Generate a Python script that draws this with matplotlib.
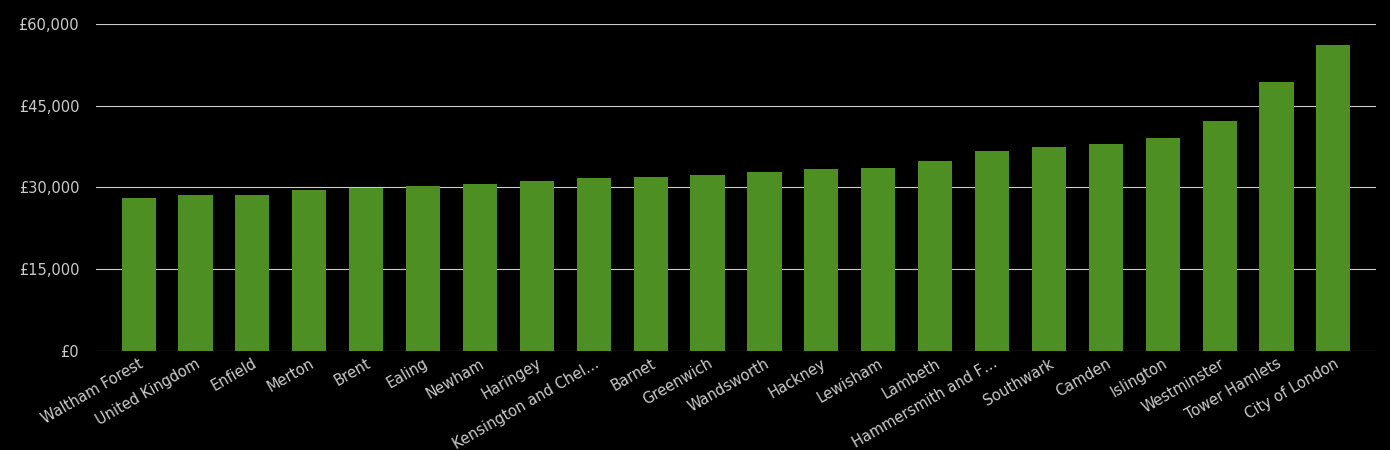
import matplotlib
matplotlib.use("Agg")
import matplotlib.pyplot as plt
from matplotlib.ticker import FuncFormatter

categories = ["Waltham Forest", "United Kingdom", "Enfield", "Merton", "Brent", "Ealing",
              "Newham", "Haringey", "Kensington and Chel…", "Barnet", "Greenwich",
              "Wandsworth", "Hackney", "Lewisham", "Lambeth", "Hammersmith and F…",
              "Southwark", "Camden", "Islington", "Westminster", "Tower Hamlets", "City of London"]
values = [28100, 28600, 28600, 29500, 29900, 30300, 30600, 31200, 31700, 31900, 32300,
          32800, 33400, 33600, 34900, 36700, 37400, 38000, 39100, 42200, 49400, 56100]

fig = plt.figure(figsize=(13.9, 4.5), dpi=100, facecolor="black")
ax = fig.add_axes([0.069, 0.22, 0.921, 0.727], facecolor="black")
x = range(len(categories))
ax.bar(x, values, width=0.6, color="#4d8f22", zorder=3)
ax.set_xlim(-0.75, len(categories) - 0.25)
ax.set_ylim(0, 60000)
ax.set_yticks([0, 15000, 30000, 45000, 60000])
ax.yaxis.set_major_formatter(FuncFormatter(lambda v, p: f"£{int(v):,}"))
ax.grid(axis="y", color="#cccccc", linewidth=0.8, zorder=0)
ax.set_xticks(list(x))
ax.set_xticklabels(categories, rotation=30, ha="right", rotation_mode="anchor")
for s in ax.spines.values():
    s.set_visible(False)
ax.tick_params(colors="#cccccc", labelsize=10.5, length=0)
ax.tick_params(axis="y", pad=12)
fig.savefig("out.png", dpi=100, facecolor="black")
